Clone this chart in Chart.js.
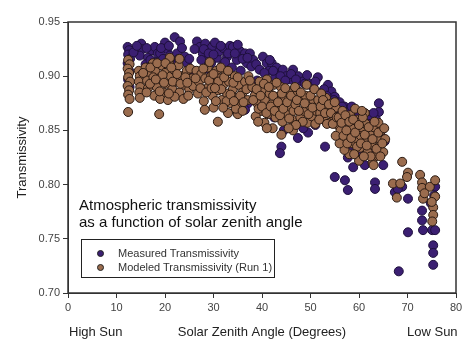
<!DOCTYPE html>
<html>
<head>
<meta charset="utf-8">
<script src="https://cdn.jsdelivr.net/npm/chart.js@4.4.1/dist/chart.umd.min.js"></script>
<style>
  body { margin: 0; background: #fff; }
  #wrap { position: relative; width: 474px; height: 350px; font-family: "Liberation Sans", Arial, sans-serif; }
  #chart { position: absolute; left: 0; top: 0; }
  .note { position: absolute; left: 79px; font-size: 15px; color: #111; white-space: nowrap; line-height: 17px; }
  .legend { position: absolute; left: 81px; top: 239px; width: 194px; height: 39px; border: 1.5px solid #222; box-sizing: border-box; background: #fff; }
  .legend div { position: absolute; left: 36px; font-size: 11px; color: #333; white-space: nowrap; }
  .legend span { position: absolute; left: -21px; top: 3px; width: 7px; height: 7px; border-radius: 50%; box-sizing: border-box; border: 1px solid #222; }
  .sun { position: absolute; top: 324px; font-size: 13px; color: #222; }
</style>
</head>
<body>
<div id="wrap">
  <canvas id="chart" width="474" height="350"></canvas>
  <div class="note" style="top:196px">Atmospheric transmissivity</div>
  <div class="note" style="top:213px">as a function of solar zenith angle</div>
  <div class="legend">
    <div style="top:7px"><span style="background:#3b1f72"></span>Measured Transmissivity</div>
    <div style="top:21px"><span style="background:#9a6c4e"></span>Modeled Transmissivity (Run 1)</div>
  </div>
  <div class="sun" style="left:69px">High Sun</div>
  <div class="sun" style="left:407px">Low Sun</div>
</div>
<script>
// solar zenith angle (degrees), transmissivity
const measured = [
  [12.3,0.927],[12.6,0.924],[12.4,0.920],[12.8,0.916],[12.3,0.912],[12.6,0.905],[12.4,0.897],[12.7,0.890],
  [15.1,0.930],[15.3,0.925],[14.8,0.919],[16.5,0.917],[17.3,0.924],[17.9,0.927],[18.5,0.921],[19.0,0.921],
  [19.6,0.916],[20.0,0.931],[20.5,0.925],[21.0,0.919],[16.0,0.911],[18.0,0.913],
  [22.0,0.936],[23.1,0.932],[22.5,0.921],[24.1,0.918],[24.5,0.912],[23.5,0.926],[25.6,0.896],[26.0,0.905],
  [26.6,0.932],[27.2,0.927],[27.8,0.921],[28.3,0.930],[28.7,0.915],[28.7,0.907],[29.7,0.927],[30.3,0.931],
  [30.7,0.917],[31.2,0.923],[32.0,0.926],[32.8,0.918],[33.4,0.928],[34.0,0.927],[34.8,0.915],[35.5,0.923],
  [36.5,0.921],[36.9,0.912],[37.5,0.921],[38.2,0.915],[29.5,0.912],[31.8,0.910],[33.8,0.908],[35.6,0.905],
  [37.1,0.875],[36.5,0.869],[39.6,0.872],[39.0,0.896],[38.4,0.888],
  [40.2,0.918],[41.0,0.912],[42.0,0.912],[43.0,0.908],[43.5,0.902],[44.3,0.906],[45.0,0.900],[45.8,0.897],
  [46.4,0.906],[41.5,0.905],[42.6,0.898],[44.0,0.835],[43.7,0.829],[44.5,0.850],[42.5,0.862],
  [47.5,0.900],[48.3,0.895],[49.3,0.901],[50.0,0.893],[51.5,0.899],[52.4,0.885],[53.6,0.892],[54.3,0.886],
  [55.0,0.881],[56.0,0.876],[47.4,0.843],[49.5,0.848],[48.5,0.852],[53.0,0.835],[51.0,0.855],[55.5,0.870],
  [57.0,0.872],[58.0,0.868],[59.0,0.864],[60.5,0.862],[61.6,0.861],[62.5,0.858],[64.1,0.875],[64.1,0.867],
  [63.5,0.860],[57.7,0.825],[58.8,0.816],[61.2,0.818],[60.0,0.830],[62.0,0.835],[63.0,0.827],[65.0,0.818],
  [55.0,0.807],[57.1,0.804],[57.7,0.795],[59.5,0.840],[56.5,0.845],[64.5,0.845],[65.3,0.840],[58.6,0.836],
  [63.3,0.802],[63.3,0.796],[67.4,0.793],[68.9,0.798],[70.1,0.787],[70.1,0.756],[73.0,0.776],[73.0,0.767],
  [73.2,0.758],[75.7,0.798],[75.1,0.758],[75.7,0.758],[75.3,0.744],[75.3,0.737],[75.3,0.726],[68.2,0.720],
  [68.0,0.796],[74.8,0.783],[75.5,0.790],
  [13.5,0.922],[14.2,0.928],[16.2,0.926],[17.0,0.915],[19.2,0.926],[20.8,0.928],[21.5,0.914],[22.8,0.916],
  [25.0,0.916],[26.1,0.925],[27.5,0.915],[28.0,0.925],[29.0,0.921],[30.0,0.920],[31.5,0.928],[32.4,0.913],
  [33.0,0.921],[34.4,0.921],[35.0,0.929],[36.0,0.916],[37.0,0.917],[37.8,0.909],[38.8,0.911],[39.5,0.906],
  [40.5,0.903],[41.6,0.915],[42.3,0.905],[43.8,0.900],[44.8,0.896],[46.0,0.902],[47.0,0.897],[48.8,0.893],
  [50.5,0.890],[51.0,0.895],[52.8,0.888],[53.3,0.882],[54.8,0.878],[56.5,0.872],[57.5,0.866],[58.5,0.872],
  [60.0,0.866],[62.0,0.864],[63.0,0.866]
];

const modeled = [
  [12.4,0.915],[12.7,0.911],[12.3,0.907],[12.6,0.903],[12.4,0.899],[12.8,0.895],[12.3,0.891],[12.6,0.887],
  [12.4,0.883],[12.7,0.879],[12.4,0.867],
  [14.6,0.905],[14.8,0.900],[14.6,0.895],[14.9,0.890],[14.7,0.885],[14.8,0.880],
  [16.0,0.908],[16.8,0.902],[17.5,0.912],[17.2,0.895],[18.0,0.905],[18.3,0.890],[18.8,0.898],[19.3,0.910],
  [19.6,0.885],[20.0,0.903],[20.3,0.893],[20.8,0.913],[21.2,0.900],[21.5,0.888],[21.8,0.906],[22.3,0.895],
  [22.8,0.910],[23.0,0.885],[23.5,0.900],[24.0,0.892],[24.5,0.905],[25.0,0.888],[25.5,0.898],[16.5,0.889],
  [17.8,0.882],[19.0,0.879],[20.6,0.878],[22.0,0.881],[23.8,0.879],[18.8,0.865],[16.3,0.896],[21.0,0.917],
  [15.5,0.903],[16.2,0.885],[17.0,0.908],[17.6,0.899],[18.4,0.912],[18.9,0.886],[19.5,0.901],[20.1,0.912],
  [20.8,0.884],[21.6,0.895],[22.5,0.902],[23.2,0.893],[24.2,0.899],[24.8,0.882],[25.2,0.907],[25.8,0.891],
  [16.9,0.893],[18.1,0.897],[19.8,0.894],[21.3,0.908],[23.0,0.916],[24.6,0.894],
  [26.5,0.905],[27.0,0.895],[27.5,0.902],[27.8,0.888],[28.3,0.898],[28.8,0.908],[29.0,0.890],[29.5,0.900],
  [29.8,0.882],[30.2,0.895],[30.6,0.905],[31.0,0.887],[31.3,0.898],[31.7,0.878],[32.0,0.892],[32.5,0.903],
  [32.8,0.884],[33.2,0.895],[33.6,0.875],[34.0,0.888],[34.4,0.900],[34.8,0.880],[35.2,0.892],[35.6,0.872],
  [36.0,0.885],[36.5,0.895],[37.0,0.878],[30.9,0.858],[30.0,0.871],[28.0,0.877],[26.8,0.884],[33.0,0.866],
  [35.0,0.865],[31.5,0.908],[29.2,0.913],
  [26.3,0.898],[27.3,0.889],[27.9,0.907],[28.5,0.885],[29.1,0.896],[29.6,0.889],[30.0,0.902],[30.5,0.877],
  [31.0,0.895],[31.6,0.888],[32.2,0.899],[32.7,0.877],[33.0,0.905],[33.5,0.883],[34.1,0.894],[34.6,0.870],
  [35.0,0.899],[35.5,0.882],[36.2,0.876],[36.8,0.888],[37.2,0.900],[28.2,0.869],[32.0,0.871],[34.2,0.877],
  [36.0,0.868],[30.3,0.889],
  [38.0,0.890],[38.5,0.882],[39.0,0.875],[39.5,0.895],[39.8,0.868],[40.2,0.888],[40.6,0.878],[41.0,0.897],
  [41.3,0.865],[41.6,0.884],[42.0,0.874],[42.4,0.892],[42.8,0.862],[43.1,0.881],[43.5,0.870],[43.9,0.890],
  [44.2,0.858],[44.6,0.878],[45.0,0.866],[45.4,0.885],[45.8,0.872],[44.0,0.846],[40.5,0.857],[38.7,0.863],
  [42.2,0.852],[46.2,0.860],[37.5,0.896],
  [38.2,0.878],[38.9,0.888],[39.3,0.870],[39.7,0.882],[40.0,0.872],[40.4,0.893],[40.9,0.866],[41.4,0.890],
  [41.8,0.872],[42.3,0.882],[42.6,0.868],[43.0,0.894],[43.3,0.876],[43.7,0.864],[44.1,0.884],[44.4,0.870],
  [44.8,0.889],[45.2,0.876],[45.6,0.861],[46.0,0.882],[46.5,0.868],[46.9,0.874],[47.4,0.886],[47.9,0.862],
  [48.2,0.879],[48.6,0.868],[49.0,0.882],[49.4,0.857],[49.8,0.873],[50.2,0.863],[50.6,0.878],[51.2,0.868],
  [39.2,0.858],[41.0,0.852],[46.4,0.850],
  [46.8,0.890],[47.2,0.878],[47.6,0.868],[48.0,0.885],[48.4,0.858],[48.8,0.875],[49.2,0.892],[49.6,0.865],
  [50.0,0.882],[50.4,0.871],[50.8,0.888],[51.0,0.856],[47.0,0.855],[45.5,0.852],
  [51.6,0.878],[52.0,0.866],[52.4,0.874],[52.8,0.860],[53.2,0.880],[53.6,0.869],[54.0,0.857],[54.4,0.875],
  [54.8,0.863],[55.2,0.871],[55.6,0.855],[52.2,0.884],
  [51.8,0.860],[52.1,0.872],[52.6,0.878],[53.0,0.866],[53.4,0.856],[53.8,0.874],[54.2,0.866],[54.6,0.856],
  [55.0,0.876],[55.4,0.862],
  [55.8,0.862],[56.2,0.850],[56.6,0.868],[57.0,0.842],[57.4,0.858],[57.8,0.848],[58.2,0.864],[58.6,0.838],
  [59.0,0.854],[59.4,0.843],[59.8,0.860],[60.2,0.834],[60.6,0.851],[61.0,0.840],[61.4,0.856],[61.8,0.830],
  [62.2,0.847],[62.6,0.837],[63.0,0.853],[63.4,0.826],[63.8,0.843],[64.2,0.835],[64.6,0.850],[65.0,0.830],
  [65.4,0.842],[58.0,0.828],[60.0,0.822],[62.8,0.820],[57.0,0.832],[59.2,0.870],[61.2,0.866],[56.0,0.838],
  [64.0,0.857],[55.2,0.845],[60.4,0.845],[58.4,0.852],
  [56.4,0.857],[56.8,0.845],[57.2,0.864],[57.6,0.838],[58.0,0.858],[58.4,0.843],[58.8,0.860],[59.2,0.848],
  [59.6,0.835],[60.0,0.855],[60.4,0.838],[60.8,0.862],[61.2,0.846],[61.6,0.836],[62.0,0.853],[62.4,0.826],
  [62.8,0.842],[63.2,0.858],[63.6,0.833],[64.0,0.848],[64.4,0.826],[64.8,0.838],[65.2,0.852],[59.0,0.828],
  [61.0,0.826],[63.0,0.818],[57.4,0.850],[60.6,0.868],
  [68.9,0.821],[67.0,0.801],[68.5,0.801],[67.8,0.788],[70.1,0.811],[69.9,0.807],[72.6,0.809],[73.0,0.802],
  [73.0,0.797],[73.2,0.787],[74.6,0.798],[75.7,0.804],[75.7,0.789],[75.3,0.779],[75.3,0.772],[75.1,0.766],
  [73.5,0.792],[75.0,0.784]
];

const xTicks = [0, 10, 20, 30, 40, 50, 60, 70, 80];
const yTicks = [0.70, 0.75, 0.80, 0.85, 0.90, 0.95];

const toPoints = list => list.map(p => ({ x: p[0], y: p[1] }));

// box round the plot area
const frame = {
    id: 'frame',
    afterDatasetsDraw(chart) {
        const { ctx, chartArea: a } = chart;
        ctx.save();
        ctx.strokeStyle = '#333';
        ctx.lineWidth = 1.5;
        ctx.strokeRect(a.left, a.top, a.right - a.left, a.bottom - a.top);
        ctx.restore();
    }
};

const tickFont = { family: 'Liberation Sans', size: 11 };
const titleFont = { family: 'Liberation Sans', size: 13 };

new Chart(document.getElementById('chart'), {
    type: 'scatter',
    data: {
        datasets: [{
            label: 'Measured Transmissivity',
            data: toPoints(measured),
            backgroundColor: '#3b1f72',
            borderColor: '#1e0f3c',
            borderWidth: 1,
            pointRadius: 4.5,
            order: 1
        }, {
            label: 'Modeled Transmissivity (Run 1)',
            data: toPoints(modeled),
            backgroundColor: '#9a6c4e',
            borderColor: '#2a1a12',
            borderWidth: 1,
            pointRadius: 4.5,
            order: 0
        }]
    },
    options: {
        responsive: false,
        animation: false,
        layout: { padding: { top: 22, right: 18, left: 0, bottom: 0 } },
        plugins: { legend: { display: false }, tooltip: { enabled: false } },
        scales: {
            x: {
                min: 0,
                max: 80,
                afterBuildTicks: s => { s.ticks = xTicks.map(v => ({ value: v })); },
                afterFit: s => { s.height = 57; },
                grid: { drawOnChartArea: false, tickLength: 5, color: '#333' },
                border: { color: '#333', width: 1 },
                ticks: { font: tickFont, color: '#444', padding: 3 },
                title: { display: true, text: 'Solar Zenith Angle (Degrees)', font: titleFont, color: '#222', padding: { top: 0, bottom: 10 } }
            },
            y: {
                min: 0.70,
                max: 0.95,
                afterBuildTicks: s => { s.ticks = yTicks.map(v => ({ value: v })); },
                afterFit: s => { s.width = 68; },
                grid: { drawOnChartArea: false, tickLength: 5, color: '#333' },
                border: { color: '#333', width: 1 },
                ticks: { font: tickFont, color: '#444', padding: 3, callback: v => v.toFixed(2) },
                title: { display: true, text: 'Transmissivity', font: titleFont, color: '#222', padding: { top: 15, bottom: 0 } }
            }
        }
    },
    plugins: [frame]
});
</script>
</body>
</html>
